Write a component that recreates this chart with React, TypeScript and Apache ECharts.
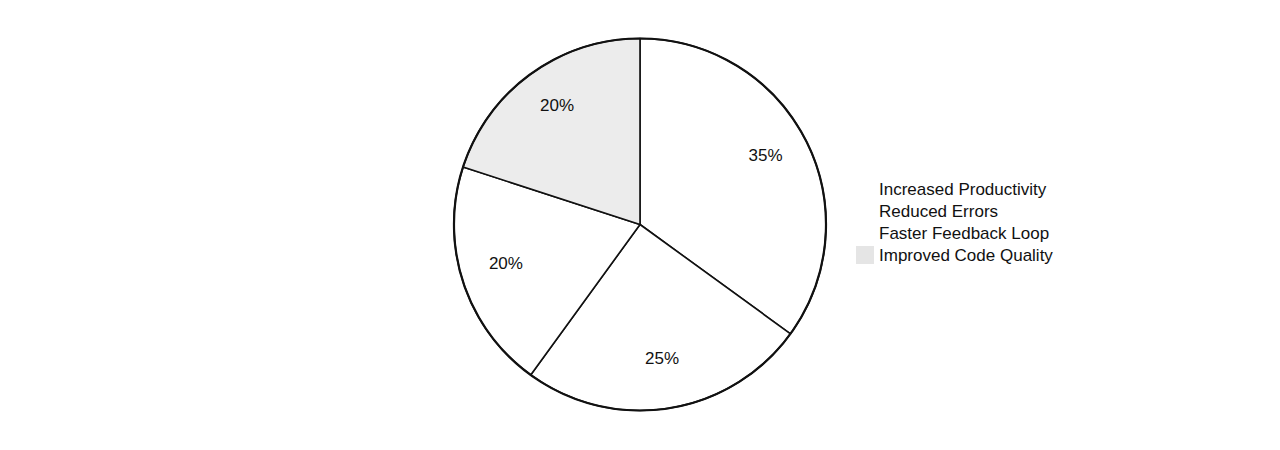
import { useEffect, useRef } from 'react';
import * as echarts from 'echarts';

const categories = ['Increased Productivity', 'Reduced Errors', 'Faster Feedback Loop', 'Improved Code Quality'];
const shares = [35, 25, 20, 20];
const sliceColors = ['#ffffff', '#ffffff', '#ffffff', '#ececec'];
const legendColors = ['#ffffff', '#ffffff', '#ffffff', '#e5e5e5'];

const FONT = '"Liberation Sans", Arial, sans-serif';

export default function App() {
  const chartRef = useRef<HTMLDivElement>(null);

  useEffect(() => {
    document.body.style.margin = '0';
    if (!chartRef.current) return;
    const chart = echarts.init(chartRef.current, null, { renderer: 'svg' });

    const pieData = categories.map((name, i) => ({
      name,
      value: shares[i],
      itemStyle: { color: sliceColors[i] },
    }));

    const center = ['640', '224.5'];

    chart.setOption({
      animation: false,
      textStyle: { fontFamily: FONT },
      legend: {
        orient: 'vertical',
        left: 851,
        top: 175,
        itemWidth: 18,
        itemHeight: 18,
        itemGap: 4,
        icon: 'rect',
        itemStyle: { borderWidth: 0 },
        textStyle: { fontFamily: FONT, fontSize: 17, color: '#111' },
        data: categories.map((name, i) => ({ name, itemStyle: { color: legendColors[i], borderWidth: 0 } })),
      },
      series: [
        {
          type: 'pie',
          center,
          radius: [0, 186],
          startAngle: 90,
          clockwise: true,
          label: { show: false },
          labelLine: { show: false },
          emphasis: { disabled: true },
          itemStyle: { borderColor: '#111', borderWidth: 1.6 },
          data: pieData,
        },
        {
          // invisible ring, only used to place the percentage labels further out
          type: 'pie',
          center: ['640', '219.5'],
          radius: [90, 186],
          startAngle: 90,
          clockwise: true,
          silent: true,
          label: {
            show: true,
            position: 'inside',
            formatter: '{c}%',
            fontFamily: FONT,
            fontSize: 17,
            color: '#111',
          },
          labelLine: { show: false },
          itemStyle: { color: 'rgba(0,0,0,0)', borderWidth: 0 },
          data: categories.map((name, i) => ({ name, value: shares[i] })),
        },
        {
          // outer rim
          type: 'pie',
          center,
          radius: [0, 186],
          silent: true,
          label: { show: false },
          labelLine: { show: false },
          itemStyle: { color: 'rgba(0,0,0,0)', borderColor: '#111', borderWidth: 2.2 },
          data: [{ name: '', value: 1 }],
        },
      ],
    });

    return () => {
      chart.dispose();
    };
  }, []);

  return <div ref={chartRef} style={{ width: '1280px', height: '450px' }} />;
}
